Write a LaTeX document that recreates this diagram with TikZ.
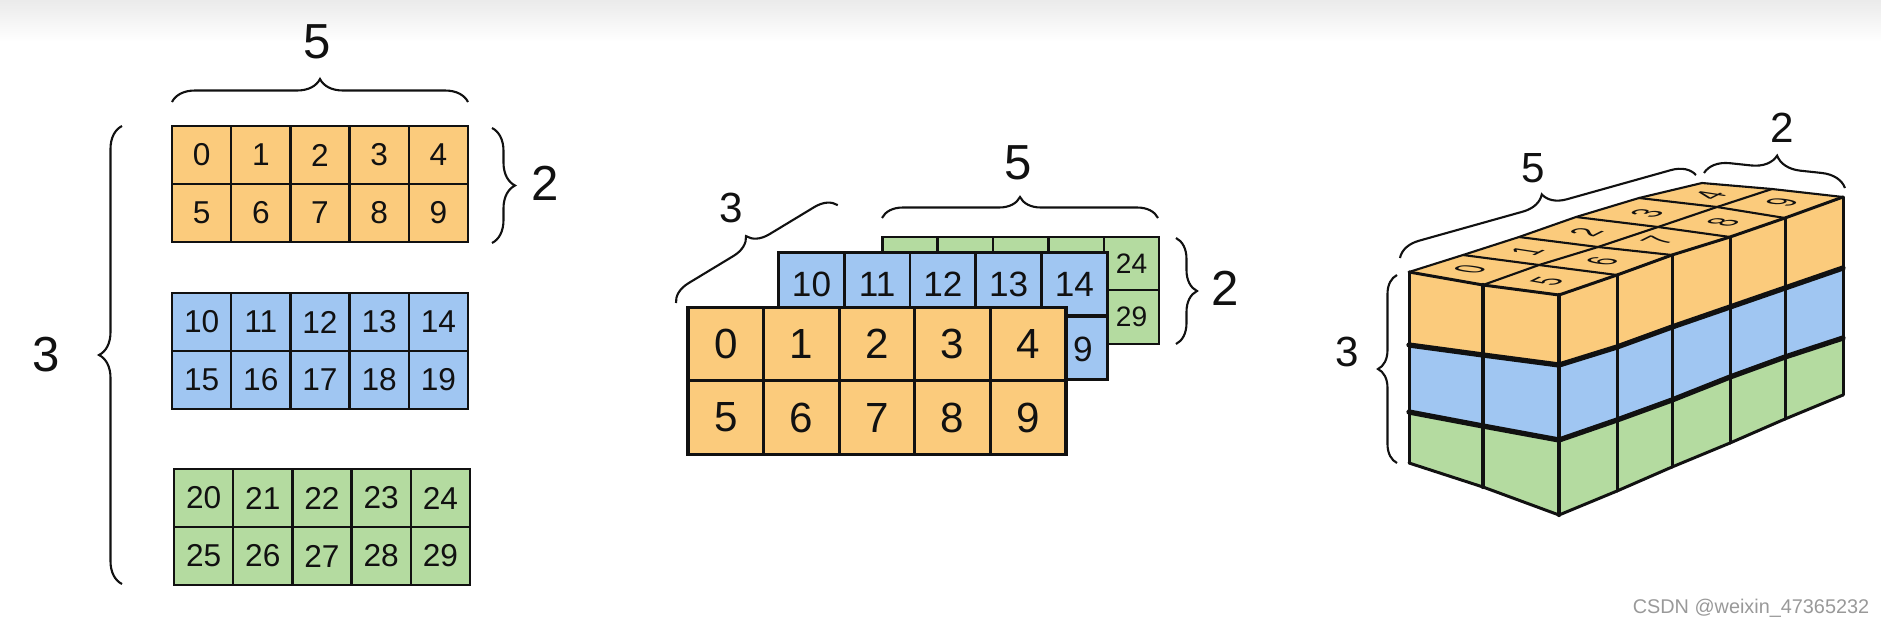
\documentclass[tikz,border=0pt]{standalone}
\usepackage{fontspec}
\setmainfont{Liberation Sans}
\usetikzlibrary{decorations.pathreplacing}

\definecolor{orangecell}{HTML}{FBCB7C}
\definecolor{bluecell}{HTML}{A0C6F2}
\definecolor{greencell}{HTML}{B4DBA0}
\definecolor{inkline}{HTML}{111111}

\begin{document}
\begin{tikzpicture}[
    x=0.02cm, y=-0.02cm,
    cell/.style={rectangle, draw=inkline, inner sep=0pt, text=inkline},
    flatcell/.style={cell, line width=1.4pt, minimum width=1.184cm, minimum height=1.16cm, font=\fontsize{18}{20}\selectfont},
    frontcell/.style={cell, line width=1.8pt, minimum width=1.512cm, minimum height=1.47cm, font=\fontsize{24}{26}\selectfont},
    midcell/.style={cell, line width=1.6pt, minimum width=1.315cm, minimum height=1.27cm, font=\fontsize{20}{22}\selectfont},
    backcell/.style={cell, line width=1.4pt, minimum width=1.108cm, minimum height=1.08cm, font=\fontsize{16}{18}\selectfont},
    size/.style={text=inkline, inner sep=0pt, font=\fontsize{28}{30}\selectfont},
    smallsize/.style={size, font=\fontsize{24}{26}\selectfont},
    curly/.style={draw=inkline, line width=1.2pt, decorate, decoration={brace, amplitude=#1}},
    topdigit/.style={text=inkline, inner sep=0pt, font=\fontsize{13}{14}\selectfont, cm={1.0,0.5,-1.63,0.25,(0,0)}},
    edge/.style={draw=inkline, line width=1.7pt, line cap=round},
    heavyedge/.style={draw=inkline, line width=2.5pt, line cap=round},
    band/.style={draw=inkline, line width=3pt, line cap=round},
    thinedge/.style={draw=inkline, line width=1.2pt}
]
\useasboundingbox (0,0) rectangle (1881,626);

% Bandeau du haut
\shade[top color=black!8, bottom color=white] (0,0) rectangle (1881,42);

% Tableaux a plat
\foreach \i/\fillc/\xa/\ya in {0/orangecell/172/126, 10/bluecell/172/293, 20/greencell/174/469}
    \foreach \r in {0,1}
        \foreach \c in {0,...,4} {
            \pgfmathtruncatemacro{\n}{\i+5*\r+\c}
            \node[flatcell, fill=\fillc] (l\n) at ({\xa+29.6+59.2*\c},{\ya+29+58*\r}) {\n};
        }

% Accolades a plat
\coordinate (la) at (172,102);
\coordinate (lb) at (468,102);
\coordinate (lc) at (492,128);
\coordinate (ld) at (492,243);
\coordinate (le) at (122,584);
\coordinate (lf) at (122,126);
\draw[curly=0.46cm] (la) -- (lb);
\draw[curly=0.46cm] (lc) -- (ld);
\draw[curly=0.46cm] (le) -- (lf);
\node[size] (lfive) at (317,42) {5};
\node[size] (ltwo) at (545,183) {2};
\node[size] (lthree) at (46,355) {3};

% Pile du milieu: vert
\foreach \c in {0,...,3}
    \node[backcell, fill=greencell] (mg\c) at ({910+55.4*\c},264) {};
\node[backcell, fill=greencell] (mg4) at (1131.5,264) {24};
\node[backcell, fill=greencell] (mg9) at (1131.5,317) {29};

% Pile du milieu: bleu
\foreach \c in {0,...,4} {
    \pgfmathtruncatemacro{\n}{10+\c}
    \node[midcell, fill=bluecell] (mb\c) at ({811.5+65.7*\c},284) {\n};
}
\node[midcell, fill=bluecell] (mb9) at (1074.3,348) {};
\node[text=inkline, inner sep=0pt, font=\fontsize{20}{22}\selectfont] (mnine) at (1083,349) {9};

% Pile du milieu: orange
\foreach \r in {0,1}
    \foreach \c in {0,...,4} {
        \pgfmathtruncatemacro{\n}{5*\r+\c}
        \node[frontcell, fill=orangecell] (mo\n) at ({725.8+75.6*\c},{344+73.5*\r}) {\n};
    }

% Accolades du milieu
\coordinate (ma) at (882,218);
\coordinate (mb) at (1158,218);
\coordinate (mc) at (1176,238);
\coordinate (md) at (1176,344);
\coordinate (me) at (676,303);
\coordinate (mf) at (838,205);
\draw[curly=0.42cm] (ma) -- (mb);
\draw[curly=0.42cm] (mc) -- (md);
\draw[curly=0.42cm] (me) -- (mf);
\node[size] (mfive) at (1018,163) {5};
\node[size] (mtwo) at (1225,288) {2};
\node[smallsize] (mthree) at (731,208) {3};

% Bloc en perspective
\foreach \c/\x/\ta/\tb/\tc/\td in {0/1409/272/345/412/463, 1/1483/285/355/426/487, 2/1559/295/365/440/515,
    3/1617/275/347/420/491, 4/1672/255/327/400/467, 5/1730/237/307/377/443, 6/1785/218/288/357/419, 7/1843/197/268/338/395} {
    \coordinate (p\c) at (\x,\ta);
    \coordinate (q\c) at (\x,\tb);
    \coordinate (r\c) at (\x,\tc);
    \coordinate (s\c) at (\x,\td);
}
\coordinate (back0) at (1463,255);
\coordinate (back1) at (1519,237);
\coordinate (back2) at (1576,217);
\coordinate (back3) at (1639,198);
\coordinate (back4) at (1702,183);
\coordinate (back5) at (1772,189);
\coordinate (mid1) at (1539,265);
\coordinate (mid2) at (1598,247);
\coordinate (mid3) at (1658,227);
\coordinate (mid4) at (1717,207);

\fill[orangecell] (p0) -- (back0) -- (back1) -- (back2) -- (back3) -- (back4) -- (back5) -- (p7) -- (p6) -- (p5) -- (p4) -- (p3) -- (p2) -- (p1) -- cycle;
\fill[orangecell] (p0) -- (p1) -- (p2) -- (p3) -- (p4) -- (p5) -- (p6) -- (p7) -- (q7) -- (q6) -- (q5) -- (q4) -- (q3) -- (q2) -- (q1) -- (q0) -- cycle;
\fill[bluecell] (q0) -- (q1) -- (q2) -- (q3) -- (q4) -- (q5) -- (q6) -- (q7) -- (r7) -- (r6) -- (r5) -- (r4) -- (r3) -- (r2) -- (r1) -- (r0) -- cycle;
\fill[greencell] (r0) -- (r1) -- (r2) -- (r3) -- (r4) -- (r5) -- (r6) -- (r7) -- (s7) -- (s6) -- (s5) -- (s4) -- (s3) -- (s2) -- (s1) -- (s0) -- cycle;

% Lignes du dessus
\draw[thinedge] (p0) -- (back0) -- (back1) -- (back2) -- (back3) -- (back4) -- (back5) -- (p7);
\draw[thinedge] (p1) -- (mid1) -- (mid2) -- (mid3) -- (mid4) -- (back5);
\draw[thinedge] (back0) -- (mid1) -- (p3);
\draw[thinedge] (back1) -- (mid2) -- (p4);
\draw[thinedge] (back2) -- (mid3) -- (p5);
\draw[thinedge] (back3) -- (mid4) -- (p6);

% Aretes
\foreach \c in {0,3,4,5,6,7}
    \draw[edge] (p\c) -- (q\c) -- (r\c) -- (s\c);
\foreach \c in {1,2}
    \draw[heavyedge] (p\c) -- (q\c) -- (r\c) -- (s\c);
\draw[edge] (p0) -- (p1) -- (p2) -- (p3) -- (p4) -- (p5) -- (p6) -- (p7);
\draw[edge] (s0) -- (s1) -- (s2) -- (s3) -- (s4) -- (s5) -- (s6) -- (s7);
\draw[band] (q0) -- (q1) -- (q2) -- (q3) -- (q4) -- (q5) -- (q6) -- (q7);
\draw[band] (r0) -- (r1) -- (r2) -- (r3) -- (r4) -- (r5) -- (r6) -- (r7);

% Chiffres du dessus
\node[topdigit] (t0) at (1470,269) {0};
\node[topdigit] (t1) at (1527,251) {1};
\node[topdigit] (t2) at (1586,232) {2};
\node[topdigit] (t3) at (1647,213) {3};
\node[topdigit] (t4) at (1710,195) {4};
\node[topdigit] (t5) at (1547,281) {5};
\node[topdigit] (t6) at (1602,261) {6};
\node[topdigit] (t7) at (1658,240) {7};
\node[topdigit] (t8) at (1723,222) {8};
\node[topdigit] (t9) at (1782,202) {9};

% Accolades du bloc
\coordinate (ba) at (1400,258);
\coordinate (bb) at (1696,175);
\coordinate (bc) at (1704,173);
\coordinate (bd) at (1845,188);
\coordinate (be) at (1397,463);
\coordinate (bf) at (1397,275);
\draw[curly=0.46cm] (ba) -- (bb);
\draw[curly=0.5cm] (bc) -- (bd);
\draw[curly=0.38cm] (be) -- (bf);
\node[smallsize] (bfive) at (1533,168) {5};
\node[smallsize] (btwo) at (1782,128) {2};
\node[smallsize] (bthree) at (1347,352) {3};

% Filigrane
\node[text=black!40, inner sep=0pt, font=\fontsize{11.3}{13}\selectfont] (mark) at (1751,608) {CSDN @weixin\_47365232};

\end{tikzpicture}
\end{document}
